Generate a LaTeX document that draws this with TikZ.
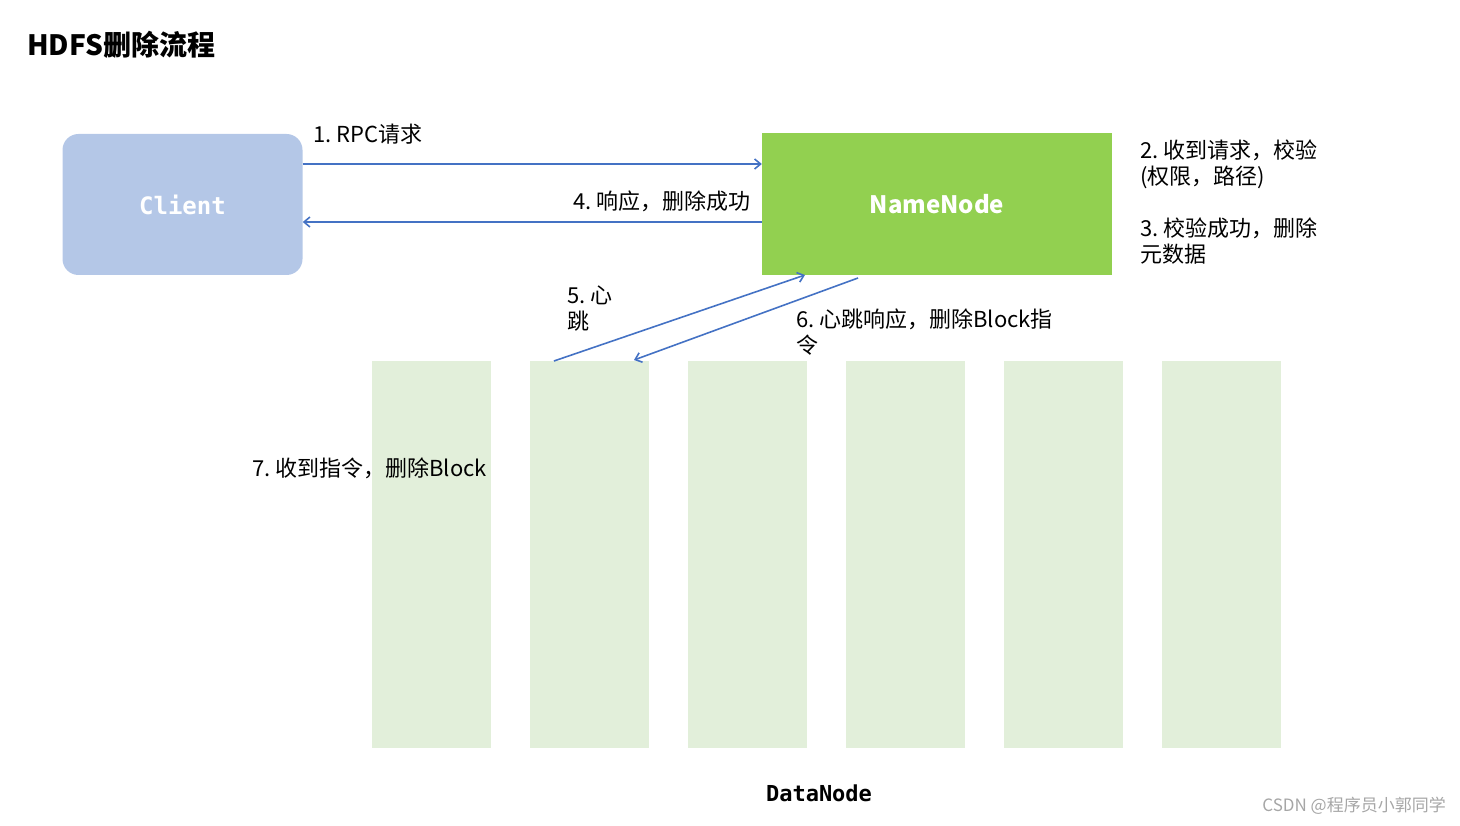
\documentclass[tikz,border=0pt]{standalone}
\usepackage{fontspec}
\setmainfont{Noto Sans CJK SC}
\newfontfamily\cmono{DejaVu Sans Mono}
\usetikzlibrary{arrows.meta}
\definecolor{cl}{HTML}{B4C7E7}
\definecolor{nn}{HTML}{92D050}
\definecolor{dn}{HTML}{E2EFDA}
\definecolor{ar}{HTML}{4472C4}
\tikzset{lbl/.style={font=\fontsize{22}{26}\selectfont,inner sep=0,align=left},
 arr/.style={draw=ar,line width=1.6pt,-{Straight Barb[length=6pt,width=10pt]}},
 bar/.style={fill=dn,draw=none}}
\begin{document}
\begin{tikzpicture}[x=1pt,y=-1pt]
\useasboundingbox (0,0) rectangle (1460,826);
\node[anchor=west,inner sep=0,font=\fontsize{28}{32}\selectfont\bfseries] (t) at (27,45) {HDFS删除流程};
\node[fill=cl,rounded corners=16pt,minimum width=240pt,minimum height=141pt,text=white,font=\cmono\fontsize{24}{28}\selectfont\bfseries] (c) at (182.5,204.5) {Client};
\node[fill=nn,minimum width=350pt,minimum height=142pt,text=white,font=\fontsize{24}{28}\selectfont\bfseries] (n) at (937,204) {NameNode};
\foreach \i/\x in {1/372,2/530,3/688,4/846,5/1004,6/1162}
 \path[bar] (\x,361) rectangle +(118.5,387) coordinate (b\i);
\coordinate (d2) at (554,361); \coordinate (d2b) at (634,360);
\coordinate (n5) at (805,275); \coordinate (n6) at (858,278);
\draw[arr] (c.east|-0,164) -- (n.west|-0,164);
\draw[arr] (n.west|-0,222) -- (c.east|-0,222);
\draw[arr] (d2) -- (n5);
\draw[arr] (n6) -- (d2b);
\node[lbl,anchor=west] (l1) at (313,134) {1.\ RPC请求};
\node[lbl,anchor=east] (l4) at (751,201) {4.\ 响应，删除成功};
\node[lbl,anchor=north west] (l2) at (1140,140) {2.\ 收到请求，校验\\(权限，路径)};
\node[lbl,anchor=north west] (l3) at (1140,218) {3.\ 校验成功，删除\\元数据};
\node[lbl,anchor=north west] (l5) at (567,286) {5.\ 心\\跳};
\node[lbl,anchor=north west] (l6) at (796,309) {6.\ 心跳响应，删除Block指\\令};
\node[lbl,anchor=west] (l7) at (252,468) {7.\ 收到指令，删除Block};
\node[inner sep=0,font=\cmono\fontsize{22}{26}\selectfont\bfseries] (dnl) at (819,793) {DataNode};
\node[inner sep=0,anchor=east,text=gray!70,font=\fontsize{17}{20}\selectfont] (wm) at (1446,806) {CSDN @程序员小郭同学};
\end{tikzpicture}
\end{document}
